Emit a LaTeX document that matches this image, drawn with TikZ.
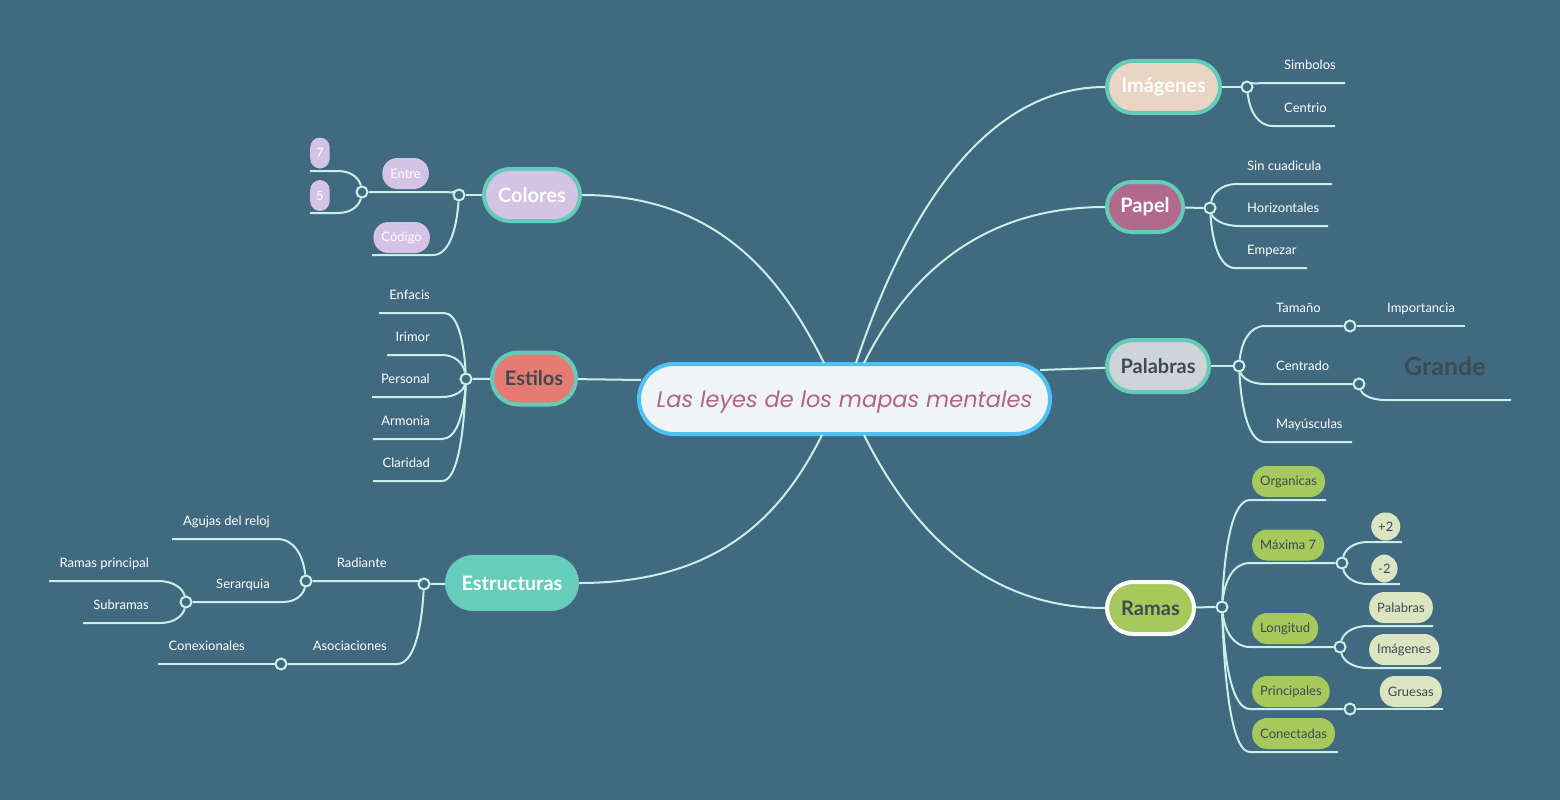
\documentclass[tikz,border=0pt]{standalone}
\usepackage{fontspec}
\setmainfont{Lato}
\newfontfamily\cfont{Poppins}
\usetikzlibrary{calc}
\definecolor{bg}{HTML}{41697F}
\definecolor{linec}{HTML}{C8F0E8}
\definecolor{tealb}{HTML}{65CBB9}
\definecolor{lav}{HTML}{D5C3E6}
\definecolor{salmon}{HTML}{E67B73}
\definecolor{estr}{HTML}{66CCBB}
\definecolor{beige}{HTML}{E8D5C3}
\definecolor{mauve}{HTML}{B16A8E}
\definecolor{greyp}{HTML}{CFD4D8}
\definecolor{rgreen}{HTML}{A6C95C}
\definecolor{pale}{HTML}{DCE5C2}
\definecolor{darkt}{HTML}{3E4A52}
\definecolor{ctext}{HTML}{B0648C}
\definecolor{cborder}{HTML}{4FC1F5}
\definecolor{cfill}{HTML}{EFF4F7}
\newcommand{\brch}[3]{\draw[conn] let \p1=(#1.center), \p2=(#2) in (#1) .. controls ({\x1+0.1*(\x2-\x1)},{\y1+0.6*(\y2-\y1)}) and ({\x2+0.6*(\x1-\x2)},{\y2}) .. (#2) -- (#3);}
\begin{document}
\begin{tikzpicture}[x=1pt,y=1pt,
  conn/.style={draw=linec, line width=2pt},
  jn/.style={circle, draw=linec, fill=bg, line width=2pt, minimum size=11pt, inner sep=0pt},
  topic/.style={rectangle, rounded corners=26pt, line width=4pt, draw=tealb, minimum height=52pt, inner sep=0pt, font=\fontsize{20}{23}\selectfont\bfseries},
  lbl/.style={text=white, inner sep=0pt, font=\fontsize{13}{15}\selectfont},
  pill/.style={rectangle, rounded corners=15pt, minimum height=31pt, inner xsep=8pt, inner ysep=0pt, font=\fontsize{13}{15}\selectfont},
  lpill/.style={pill, fill=lav, text=white},
  gpill/.style={pill, fill=rgreen, text=darkt},
  ppill/.style={pill, fill=pale, text=darkt}]
\fill[bg] (0,0) rectangle (1560,-800);
\useasboundingbox (0,0) rectangle (1560,-800);

% central
\node[rectangle, rounded corners=35pt, minimum width=411pt, minimum height=70pt, line width=4pt, draw=cborder, fill=cfill, text=ctext, inner sep=0pt, font=\cfont\fontsize{22.5}{27}\selectfont\itshape] (C) at (844.5,-399) {\raisebox{-3pt}[\height][\depth]{Las leyes de los mapas mentales}};
\coordinate (Ccol) at (824,-363);
\coordinate (Cimg) at (856,-363);
\coordinate (Cpap) at (864,-363);
\coordinate (Cest) at (822,-435);
\coordinate (Cram) at (864,-435);
\coordinate (Cpal) at (1040,-370);
\coordinate (Csty) at (641,-380);

% topics
\node[topic, fill=lav, text=white, minimum width=96pt] (Colores) at (532,-195) {Colores};
\node[topic, fill=salmon, text=darkt, minimum width=84pt] (Estilos) at (534,-378.5) {Estilos};
\node[topic, fill=estr, draw=estr, text=white, minimum width=130pt] (Estructuras) at (512,-583) {Estructuras};
\node[topic, fill=beige, text=white, minimum width=113pt] (Imagenes) at (1163.5,-87) {Imágenes};
\node[topic, fill=mauve, text=white, minimum width=76pt, minimum height=50pt, rounded corners=25pt] (Papel) at (1145,-207) {Papel};
\node[topic, fill=greyp, text=darkt, minimum width=102pt] (Palabras) at (1158,-366) {Palabras};
\node[topic, fill=rgreen, draw=white, text=darkt, minimum width=87pt] (Ramas) at (1150.5,-608) {Ramas};

% main connectors
\draw[conn] (Colores.east) .. controls +(140,0) and +(-40,80) .. (Ccol);
\draw[conn] (Estructuras.east) .. controls +(140,0) and +(-40,-80) .. (Cest);
\draw[conn] (Imagenes.west) .. controls +(-120,0) and +(50,150) .. (Cimg);
\draw[conn] (Papel.west) .. controls +(-130,0) and +(40,80) .. (Cpap);
\draw[conn] (Ramas.west) .. controls +(-130,0) and +(40,-80) .. (Cram);
\draw[conn] (Palabras) -- (Cpal);
\draw[conn] (Estilos) -- (Csty);

% ---------- Colores ----------
\node[jn] (cJ) at (459,-195) {};
\node[jn] (eJ) at (362,-192) {};
\coordinate (kEn) at (438,-192);
\coordinate (k7) at (338,-171); \coordinate (e7) at (310,-171);
\coordinate (k5) at (338,-213); \coordinate (e5) at (310,-213);
\coordinate (kCd) at (433,-255); \coordinate (eCd) at (372,-255);
\draw[conn] (Colores) -- (cJ);
\brch{cJ}{kEn}{eJ}
\brch{cJ}{kCd}{eCd}
\brch{eJ}{k7}{e7}
\brch{eJ}{k5}{e5}
\node[lpill, anchor=east] (pEntre) at (429,-173.5) {Entre};
\node[lpill, anchor=east] (pCodigo) at (430,-237.5) {Código};
\node[lpill, anchor=west, rounded corners=10pt, inner xsep=6pt] (p7) at (310,-153) {7};
\node[lpill, anchor=west, rounded corners=10pt, inner xsep=6pt] (p5) at (310,-195.5) {5};

% ---------- Estilos ----------
\node[jn] (sJ) at (466,-379) {};
\draw[conn] (Estilos) -- (sJ);
\coordinate (kEf) at (444,-313); \coordinate (eEf) at (379,-313);
\coordinate (kIr) at (442,-355); \coordinate (eIr) at (387,-355);
\coordinate (kPe) at (442,-397); \coordinate (ePe) at (372,-397);
\coordinate (kAr) at (442,-439); \coordinate (eAr) at (373,-439);
\coordinate (kCl) at (442,-481); \coordinate (eCl) at (373,-481);
\brch{sJ}{kEf}{eEf}
\brch{sJ}{kIr}{eIr}
\brch{sJ}{kPe}{ePe}
\brch{sJ}{kAr}{eAr}
\brch{sJ}{kCl}{eCl}
\node[lbl, anchor=base east] (tEf) at (430,-299) {Enfacis};
\node[lbl, anchor=base east] (tIr) at (430,-341) {Irimor};
\node[lbl, anchor=base east] (tPe) at (430,-383) {Personal};
\node[lbl, anchor=base east] (tAr) at (430,-425) {Armonia};
\node[lbl, anchor=base east] (tCl) at (430,-467) {Claridad};

% ---------- Estructuras ----------
\node[jn] (tJ) at (424,-584) {};
\node[jn] (rJ) at (306,-581) {};
\node[jn] (srJ) at (186,-602) {};
\node[jn] (aJ) at (281,-664) {};
\draw[conn] (Estructuras) -- (tJ);
\coordinate (kRa) at (410,-581);
\coordinate (kAg) at (277,-539); \coordinate (eAg) at (172,-539);
\coordinate (kSe) at (283,-602);
\coordinate (kRp) at (158,-581); \coordinate (eRp) at (49,-581);
\coordinate (kSu) at (160,-623); \coordinate (eSu) at (83,-623);
\coordinate (kAs) at (397,-664);
\coordinate (eCo) at (158,-664);
\brch{tJ}{kRa}{rJ}
\brch{tJ}{kAs}{aJ}
\draw[conn] (aJ) -- (eCo);
\brch{rJ}{kAg}{eAg}
\brch{rJ}{kSe}{srJ}
\brch{srJ}{kRp}{eRp}
\brch{srJ}{kSu}{eSu}
\node[lbl, anchor=base east] (tAg) at (270,-525) {Agujas del reloj};
\node[lbl, anchor=base east] (tRa) at (387,-567) {Radiante};
\node[lbl, anchor=base east] (tSe) at (270,-588) {Serarquia};
\node[lbl, anchor=base east] (tRp) at (149,-567) {Ramas principal};
\node[lbl, anchor=base east] (tSu) at (149,-609) {Subramas};
\node[lbl, anchor=base east] (tAs) at (387,-650) {Asociaciones};
\node[lbl, anchor=base east] (tCo) at (245,-650) {Conexionales};

% ---------- Imagenes ----------
\node[jn] (iJ) at (1247,-87) {};
\draw[conn] (Imagenes) -- (iJ);
\coordinate (kSi) at (1268,-83); \coordinate (eSi) at (1345,-83);
\coordinate (kCt) at (1273,-126); \coordinate (eCt) at (1335,-126);
\brch{iJ}{kSi}{eSi}
\brch{iJ}{kCt}{eCt}
\node[lbl, anchor=base west] (tSi) at (1284,-69.5) {Simbolos};
\node[lbl, anchor=base west] (tCt) at (1284,-112.5) {Centrio};

% ---------- Papel ----------
\node[jn] (pJ) at (1210,-208) {};
\draw[conn] (Papel) -- (pJ);
\coordinate (kSc) at (1237,-184); \coordinate (eSc) at (1332,-184);
\coordinate (kHo) at (1240,-226); \coordinate (eHo) at (1328,-226);
\coordinate (kEm) at (1235,-268); \coordinate (eEm) at (1307,-268);
\brch{pJ}{kSc}{eSc}
\brch{pJ}{kHo}{eHo}
\brch{pJ}{kEm}{eEm}
\node[lbl, anchor=base west] (tSc) at (1247,-170.5) {Sin cuadicula};
\node[lbl, anchor=base west] (tHo) at (1247,-212.5) {Horizontales};
\node[lbl, anchor=base west] (tEm) at (1247,-254.5) {Empezar};

% ---------- Palabras ----------
\node[jn] (wJ) at (1239,-366) {};
\node[jn] (tmJ) at (1350,-326) {};
\node[jn] (ceJ) at (1359,-384) {};
\draw[conn] (Palabras) -- (wJ);
\coordinate (kTa) at (1265,-326); \coordinate (eIp) at (1465,-326);
\coordinate (kCe) at (1265,-384);
\coordinate (kGr) at (1385,-400); \coordinate (eGr) at (1511,-400);
\coordinate (kMa) at (1265,-442); \coordinate (eMa) at (1352,-442);
\brch{wJ}{kTa}{tmJ}
\draw[conn] (tmJ) -- (eIp);
\brch{wJ}{kCe}{ceJ}
\brch{ceJ}{kGr}{eGr}
\brch{wJ}{kMa}{eMa}
\node[lbl, anchor=base west] (tTa) at (1276,-312.5) {Tamaño};
\node[lbl, anchor=base west] (tIp) at (1387,-312.5) {Importancia};
\node[lbl, anchor=base west] (tCe) at (1276,-370.5) {Centrado};
\node[lbl, anchor=base west] (tMa) at (1276,-428.5) {Mayúsculas};
\node[anchor=base west, inner sep=0pt, text=darkt, font=\fontsize{25}{28}\selectfont\bfseries] (tGr) at (1404,-375) {Grande};

% ---------- Ramas ----------
\node[jn] (raJ) at (1222,-607) {};
\node[jn] (mxJ) at (1342,-563) {};
\node[jn] (loJ) at (1340,-647) {};
\node[jn] (prJ) at (1350,-709) {};
\draw[conn] (Ramas) -- (raJ);
\coordinate (kOr) at (1250,-500); \coordinate (eOr) at (1326,-500);
\coordinate (kMx) at (1250,-563);
\coordinate (kLo) at (1250,-647);
\coordinate (kPr) at (1250,-709); \coordinate (ePr) at (1443,-709);
\coordinate (kCn) at (1250,-752); \coordinate (eCn) at (1338,-752);
\coordinate (kP2) at (1368,-542); \coordinate (eP2) at (1402,-542);
\coordinate (kM2) at (1368,-584); \coordinate (eM2) at (1400,-584);
\coordinate (kPa) at (1368,-626); \coordinate (ePa) at (1433,-626);
\coordinate (kIm) at (1368,-668); \coordinate (eIm) at (1441,-668);
\brch{raJ}{kOr}{eOr}
\brch{raJ}{kMx}{mxJ}
\brch{raJ}{kLo}{loJ}
\brch{raJ}{kPr}{prJ}
\draw[conn] (prJ) -- (ePr);
\brch{raJ}{kCn}{eCn}
\brch{mxJ}{kP2}{eP2}
\brch{mxJ}{kM2}{eM2}
\brch{loJ}{kPa}{ePa}
\brch{loJ}{kIm}{eIm}
\node[gpill, anchor=west] (pOr) at (1252,-481.5) {Organicas};
\node[gpill, anchor=west] (pMx) at (1252,-545) {Máxima 7};
\node[gpill, anchor=west] (pLo) at (1252,-628.5) {Longitud};
\node[gpill, anchor=west] (pPr) at (1252,-691.5) {Principales};
\node[gpill, anchor=west] (pCn) at (1252,-733.5) {Conectadas};
\node[ppill, anchor=west, minimum height=28pt, rounded corners=14pt, inner xsep=7pt] (pP2) at (1371,-526.5) {+2};
\node[ppill, anchor=west, minimum height=28pt, rounded corners=14pt, inner xsep=7pt] (pM2) at (1371,-568.5) {-2};
\node[ppill, anchor=west] (pPa) at (1369,-607.5) {Palabras};
\node[ppill, anchor=west] (pIm) at (1369,-649.5) {Imágenes};
\node[ppill, anchor=east] (pGr) at (1442,-691.5) {Gruesas};
\end{tikzpicture}
\end{document}
